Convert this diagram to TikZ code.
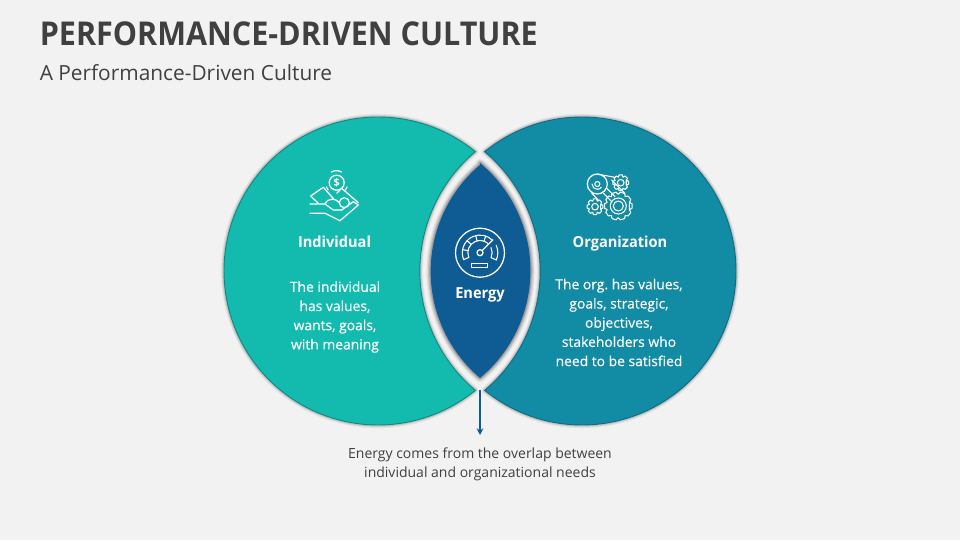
\documentclass[tikz,border=0pt]{standalone}
\usepackage{fontspec}
\setmainfont{Open Sans}
\newfontfamily\titlefont[FakeStretch=0.93]{Open Sans}
\newfontfamily\headfont[FakeStretch=0.96]{Open Sans}
\newfontfamily\bodyfont[FakeBold=0.35]{Open Sans}
\usetikzlibrary{arrows.meta}
\definecolor{bgc}{HTML}{F2F2F2}
\definecolor{tealL}{HTML}{13BBAF}
\definecolor{tealLd}{HTML}{0E8A83}
\definecolor{tealR}{HTML}{128BA5}
\definecolor{tealRd}{HTML}{0D6E84}
\definecolor{lensc}{HTML}{0F5C94}
\definecolor{inkc}{HTML}{404040}
\tikzset{
  x=0.75pt,y=0.75pt,
  titlet/.style={inner sep=0,anchor=base west,text=inkc,font=\fontsize{24.6}{28}\titlefont\bfseries},
  subt/.style={inner sep=0,anchor=base west,text=inkc,font=\fontsize{15.65}{18}\selectfont},
  head/.style={inner sep=0,anchor=base,text=white,font=\fontsize{11.4}{14}\headfont\bfseries},
  body/.style={inner sep=0,text=white,align=center,font=\fontsize{10.4}{14.4}\bodyfont\frenchspacing},
  note/.style={inner sep=0,text=inkc,align=center,font=\fontsize{10.5}{14.3}\selectfont},
  ico/.style={draw=white,line width=0.95pt,line join=round,line cap=round},
  icofine/.style={draw=white,line width=0.8pt,line join=round,line cap=round},
  pointer/.style={draw=lensc,line width=1.2pt,-{Stealth[length=5pt,width=5pt]}},
}
% gear outline: #1 centre x, #2 centre y, #3 outer r, #4 root r, #5 teeth
\newcommand{\gearicon}[5]{%
  \pgfmathsetmacro{\gstep}{360/#5}
  \draw[icofine] \foreach \gi [evaluate=\gi as \ga using \gi*\gstep] in {1,...,#5}{
    ({#1+#4*cos(\ga-0.5*\gstep)},{#2+#4*sin(\ga-0.5*\gstep)})
    -- ({#1+#3*cos(\ga-0.25*\gstep)},{#2+#3*sin(\ga-0.25*\gstep)})
    -- ({#1+#3*cos(\ga+0.25*\gstep)},{#2+#3*sin(\ga+0.25*\gstep)})
    -- ({#1+#4*cos(\ga+0.5*\gstep)},{#2+#4*sin(\ga+0.5*\gstep)})
  } -- cycle;
}
\newcommand{\leftshape}{(378,269) ++(50.8:154) arc[start angle=50.8,end angle=309.2,radius=154] arc[start angle=229.9,end angle=130.1,radius=156] -- cycle}
\newcommand{\rightshape}{(582,269) ++(129.2:154) arc[start angle=129.2,end angle=-129.2,radius=154] arc[start angle=-49.9,end angle=49.9,radius=156] -- cycle}
\newcommand{\lensshape}{(480,377) arc[start angle=50.3,end angle=-50.3,radius=139.7] arc[start angle=229.7,end angle=130.3,radius=139.7] -- cycle}
\begin{document}
\begin{tikzpicture}
\useasboundingbox (0,0) rectangle (960,540);
\fill[bgc] (0,0) rectangle (960,540);

% title
\node[titlet] (title) at (39.5,494.5) {PERFORMANCE-DRIVEN CULTURE};
\node[subt] (sub) at (39.5,459) {A Performance-Driven Culture};

% soft halos
\foreach \w/\o in {5/0.04,3.6/0.07,2.2/0.1}{
  \draw[black,opacity=\o,line width=\w pt,line join=round] \leftshape;
  \draw[black,opacity=\o,line width=\w pt,line join=round] \rightshape;
}
% circles
\draw[tealLd,line width=0.7pt,fill=tealL] \leftshape;
\draw[tealRd,line width=0.7pt,fill=tealR] \rightshape;

% lens
\foreach \w/\o in {6.5/0.05,5/0.07,3.5/0.1,2/0.15}{
  \draw[black,opacity=\o,line width=\w pt,line join=round] \lensshape;
}
\fill[lensc] \lensshape;

% labels
\node[head] (indh) at (334.5,292.5) {Individual};
\node[head] (orgh) at (620,292.5) {Organization};
\node[head] (enh) at (480,242) {Energy};
\node[body] (indb) at (335,223) {The individual\\has values,\\wants, goals,\\with meaning};
\node[body] (orgb) at (619,217.5) {The org. has values,\\goals, strategic,\\objectives,\\stakeholders who\\need to be satisfied};
\node[note] (notet) at (480,75.5) {Energy comes from the overlap between\\individual and organizational needs};

% connector
\coordinate (ps) at (480,150);
\coordinate (pe) at (480,105);
\draw[pointer] (ps) -- (pe);

% money icon
\draw[ico] (336.7,357.3) circle[radius=7.5];
\node[inner sep=0,text=white,font=\fontsize{8}{8}\selectfont\bfseries] (dollar) at (336.7,357.3) {\$};
\draw[ico] (331.5,368) arc[start angle=120,end angle=60,radius=10];
\draw[ico] (326.5,353) arc[start angle=200,end angle=215,radius=12];
\draw[ico] (347,353) arc[start angle=-20,end angle=-35,radius=12];
\draw[ico] (318.3,336.7) -- (310.7,344) -- (323.3,352.7) -- (334,340.7);
\draw[ico] (336.7,346.7) -- (341.7,351.7) -- (358.3,337.3);
\draw[ico] (325,336.7) .. controls (328,342) and (336,342) .. (339,337.5);
\draw[ico] (344.3,337.3) circle[radius=5];
\draw[ico] (310,336) -- (325,336) -- (333.3,330) -- (341.7,330);
\draw[ico] (310,326.7) -- (325,326.7) -- (340,319.3) -- (358.3,335) -- (353.3,338.3) -- (341.7,330);

% gears icon
\draw[ico] (597.3,356) circle[radius=10];
\draw[icofine] (597.3,356) circle[radius=2.5];
\draw[icofine] (592,356) arc[start angle=180,end angle=320,radius=5.3];
\draw[icofine] (598.3,365.7) -- (615,362.7);
\draw[icofine] (603.3,346.7) -- (611.7,338.3);
\draw[icofine] (591.7,346.7) -- (598.3,340);
\draw[icofine] (611.7,360) -- (625,346.7);
\draw[icofine] (606.7,351.7) -- (615,343.3);
\draw[icofine] (620.7,357.3) circle[radius=3.3];
\gearicon{620.7}{357.3}{8}{6}{8}
\draw[icofine] (595,333.3) circle[radius=3.3];
\gearicon{595}{333.3}{8}{6}{8}
\draw[icofine] (618.3,334) circle[radius=8];
\draw[icofine] (618.3,334) circle[radius=5];
\gearicon{618.3}{334}{14}{11.7}{10}

% gauge icon
\draw[ico] (480,287.3) circle[radius=24.5];
\draw[ico] (480,287.3) circle[radius=3];
\draw[ico] (482,289.3) -- (493,300.3);
\draw[icofine] (463.7,280.3) arc[start angle=203,end angle=45,radius=17.7];
\draw[icofine] (468.8,282.5) arc[start angle=203,end angle=50,radius=12.2];
\draw[icofine] (496.3,280) arc[start angle=-24,end angle=25,radius=17.7];
\draw[icofine] (491.1,282.3) arc[start angle=-24,end angle=25,radius=12.2];
\foreach \a in {203,170,137,104,71,-24}{
  \draw[icofine] ({480+12.2*cos(\a)},{287.3+12.2*sin(\a)}) -- ({480+17.7*cos(\a)},{287.3+17.7*sin(\a)});
}
\draw[ico] (471.7,272.7) rectangle (487.3,276.7);
\end{tikzpicture}
\end{document}
